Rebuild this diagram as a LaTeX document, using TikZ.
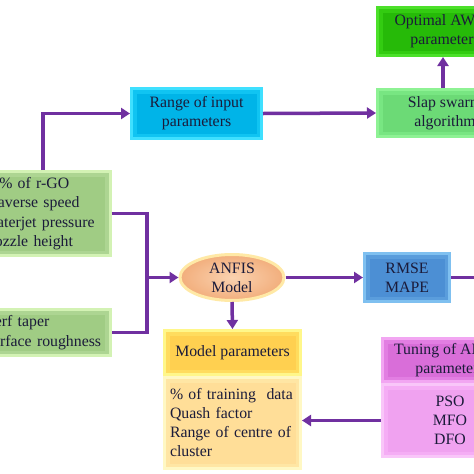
\documentclass[tikz,border=0pt]{standalone}
\usepackage{fontspec}
\setmainfont{Liberation Serif}
\usetikzlibrary{arrows.meta,shapes.geometric}
\definecolor{arrowc}{HTML}{7030A0}
\definecolor{txt}{HTML}{1B1B3A}
\definecolor{optO}{HTML}{4CE02A}
\definecolor{optM}{HTML}{33CC11}
\definecolor{optI}{HTML}{26BA08}
\definecolor{slapO}{HTML}{8EF294}
\definecolor{slapM}{HTML}{78E682}
\definecolor{slapI}{HTML}{6CDA76}
\definecolor{rangeO}{HTML}{3FE0FF}
\definecolor{rangeM}{HTML}{10C4F2}
\definecolor{rangeI}{HTML}{00B4E8}
\definecolor{rmseO}{HTML}{7FC0F0}
\definecolor{rmseM}{HTML}{5A9DDC}
\definecolor{rmseI}{HTML}{4C8FD4}
\definecolor{inO}{HTML}{D3F2B4}
\definecolor{inM}{HTML}{ADD592}
\definecolor{inI}{HTML}{A0CC84}
\definecolor{anfO}{HTML}{FFE9A6}
\definecolor{anfM}{HTML}{F2AE7C}
\definecolor{anfC}{HTML}{FAD2B0}
\definecolor{modhO}{HTML}{FFF78A}
\definecolor{modhM}{HTML}{FFDC5E}
\definecolor{modhI}{HTML}{FFD050}
\definecolor{modbO}{HTML}{FFF8C4}
\definecolor{modbM}{HTML}{FFE6A4}
\definecolor{modbI}{HTML}{FFDE98}
\definecolor{tunhO}{HTML}{F2A6F2}
\definecolor{tunhM}{HTML}{E27EE2}
\definecolor{tunhI}{HTML}{D96ED9}
\definecolor{tunbO}{HTML}{F9C6F9}
\definecolor{tunbM}{HTML}{F5ADF5}
\definecolor{tunbI}{HTML}{F0A2F0}
\begin{document}
\begin{tikzpicture}[x=1pt,y=-1pt,
  mybox/.style={draw, line width=3pt, inner sep=0pt, align=center, text=txt,
    font=\fontsize{15.8}{19}\selectfont,
    path picture={\fill[#1] ([shift={(5pt,-5pt)}]path picture bounding box.north west) rectangle ([shift={(-5pt,5pt)}]path picture bounding box.south east);}},
  leftbox/.style={align=left, text width=116pt, inner xsep=10.5pt, inner ysep=0pt, font=\fontsize{15.8}{19.5}\selectfont},
  arr/.style={draw=arrowc, line width=3.5pt, -{Triangle[length=9pt,width=11pt]}},
  lin/.style={draw=arrowc, line width=3.5pt}]
\useasboundingbox (0,0) rectangle (474,474);
\fill[white] (0,0) rectangle (474,474);
\clip (0,0) rectangle (474,474);

\node[mybox=optI, fill=optM, draw=optO, minimum width=135pt, minimum height=48pt] (opt) at (445,31.5) {Optimal AWJM\\parameters};
\node[mybox=slapI, fill=slapM, draw=slapO, minimum width=135pt, minimum height=47pt] (slap) at (445,113) {Slap swarm\\algorithm};
\node[mybox=rangeI, fill=rangeM, draw=rangeO, minimum width=130pt, minimum height=50pt] (range) at (196.5,113.5) {Range of input\\parameters};
\node[mybox=inI, fill=inM, draw=inO, leftbox, minimum width=137pt, minimum height=84pt] (inp) at (41.5,213.5) {\mbox{wt\% of r-GO}\\\mbox{Traverse speed}\\\mbox{Waterjet pressure}\\\mbox{Nozzle height}};
\node[mybox=inI, fill=inM, draw=inO, leftbox, minimum width=137pt, minimum height=46pt] (lowin) at (41.5,332.5) {\mbox{Kerf taper}\\\mbox{Surface roughness}};
\node[ellipse, draw=anfO, line width=3pt, inner color=anfC, outer color=anfM, minimum width=104pt, minimum height=46pt, inner sep=0pt, align=center, text=txt, font=\fontsize{15.8}{19}\selectfont] (anfis) at (232,277.5) {ANFIS\\Model};
\node[mybox=rmseI, fill=rmseM, draw=rmseO, minimum width=85pt, minimum height=48pt] (rmse) at (407,277.5) {RMSE\\MAPE};
\node[mybox=modhI, fill=modhM, draw=modhO, minimum width=136pt, minimum height=44pt] (modh) at (232.5,352.5) {Model parameters};
\node[mybox=modbI, fill=modbM, draw=modbO, align=left, text width=125pt, inner xsep=5.5pt, minimum width=136pt, minimum height=91pt] (modb) at (232.5,423) {\% of training\ \ data\\Quash factor\\Range of centre of\\cluster};
\node[mybox=tunhI, fill=tunhM, draw=tunhO, minimum width=135pt, minimum height=43pt] (tunh) at (450,360) {Tuning of ANFIS\\parameters};
\node[mybox=tunbI, fill=tunbM, draw=tunbO, minimum width=135pt, minimum height=72pt] (tunb) at (450,420.5) {PSO\\MFO\\DFO};

\coordinate (j1) at (147,277.5);
\coordinate (offr) at (490,277.5);

\draw[arr] ([xshift=1.5pt]inp.north) |- (range.west);
\draw[arr] (range.east) -- (slap.west);
\draw[arr] ([xshift=-2pt]slap.north) -- ([xshift=-2pt]opt.south);
\draw[lin] (inp.east) -| (j1) |- (lowin.east);
\draw[arr] (j1) -- (anfis.west);
\draw[arr] (anfis.east) -- (rmse.west);
\draw[lin] (rmse.east) -- (offr);
\draw[arr] (anfis.south) -- (modh.north);
\draw[arr] (tunb.west) -- (tunb.west -| modb.east);
\end{tikzpicture}
\end{document}
